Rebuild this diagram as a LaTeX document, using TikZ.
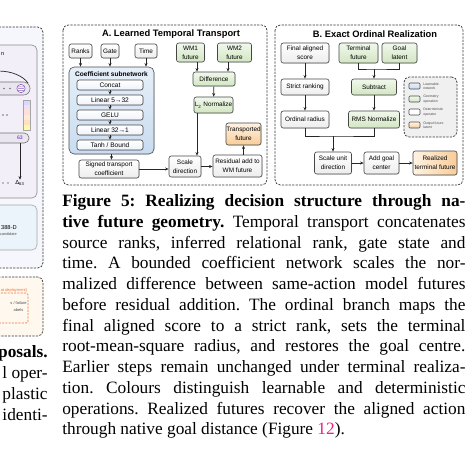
\documentclass[tikz,border=0pt]{standalone}
\usepackage{fontspec}
\setmainfont{Liberation Serif}
\newfontfamily\dgm{Liberation Sans}
\usetikzlibrary{arrows.meta,shadows}
\newdimen\pix
\pix=0.578pt
\definecolor{boxbot}{HTML}{EDEDED}
\definecolor{geotop}{HTML}{F1F8EC}
\definecolor{geobot}{HTML}{D2E6C2}
\definecolor{outtop}{HTML}{FFF3E4}
\definecolor{outbot}{HTML}{F8CC98}
\definecolor{nettop}{HTML}{E6EFF9}
\definecolor{netbot}{HTML}{C9DCF0}
\definecolor{layerbot}{HTML}{EEF3FA}
\definecolor{keybg}{HTML}{F0F0F0}
\definecolor{stripbg}{HTML}{F5F7FC}
\definecolor{lavender}{HTML}{F2EFF8}
\definecolor{pillbg}{HTML}{E9E6F0}
\definecolor{candbg}{HTML}{EBF4FB}
\definecolor{creambg}{HTML}{FFF8EE}
\definecolor{deploy}{HTML}{EA7440}
\definecolor{linkpink}{HTML}{EC1C8C}
\definecolor{iconviolet}{HTML}{8A5BC2}
\frenchspacing

\begin{document}
\begin{tikzpicture}[x=0.578pt, y=-0.578pt,
  panel/.style={draw=black!78, line width=0.4pt, dash pattern=on 1.3pt off 0.7pt, rounded corners=3pt},
  box/.style={draw=black!72, line width=0.35pt, rounded corners=1.3pt, inner sep=0pt, align=center,
    font=\dgm\fontsize{3.7}{5}\selectfont, top color=white, bottom color=boxbot,
    drop shadow={opacity=0.22, shadow xshift=0.35pt, shadow yshift=-0.35pt}},
  geo/.style={box, top color=geotop, bottom color=geobot},
  outbox/.style={box, top color=outtop, bottom color=outbot},
  netlayer/.style={box, minimum width=66\pix, minimum height=10\pix, top color=white, bottom color=layerbot, font=\dgm\fontsize{3.8}{5}\selectfont},
  heading/.style={font=\dgm\bfseries\fontsize{5.4}{6.5}\selectfont, inner sep=0pt},
  arr/.style={-{Stealth[length=2.1pt, width=1.7pt]}, line width=0.4pt, draw=black!85},
  link/.style={line width=0.4pt, draw=black!85},
  swatch/.style={draw=black!70, line width=0.3pt, rounded corners=0.6pt, minimum width=11\pix, minimum height=6\pix, inner sep=0pt},
  legendtext/.style={anchor=west, align=left, inner sep=0pt, text=black!70, font=\dgm\fontsize{2}{2.5}\selectfont},
  capt/.style={inner sep=0pt, font=\fontsize{10}{12}\selectfont}]

\path[use as bounding box, fill=white] (0,0) rectangle (476,463);

\draw[panel, fill=stripbg] (-20,27) rectangle (43,268);
\draw[draw=black!45, line width=0.35pt, fill=lavender, rounded corners=3pt] (-20,45) rectangle (37,198);
\node[anchor=base east, inner sep=0pt, font=\dgm\fontsize{3.2}{4}\selectfont] (strip-head) at (4.5,55) {n};
\draw[link] (-2,71) .. controls (12,71) and (23,76) .. (28,83);
\node[draw=black!55, line width=0.35pt, fill=pillbg, rounded corners=3.7pt, minimum width=50\pix, minimum height=13\pix, inner sep=0pt] (pill-1) at (5,88.5) {};
\fill[black!55] (4,88.5) circle (0.45pt) (10,88.5) circle (0.45pt);
\draw[iconviolet, line width=0.35pt, fill=white] (21,88.5) circle (2.4pt);
\draw[iconviolet, line width=0.25pt] (18.2,86.8) .. controls (19.4,85.6) and (20.2,88) .. (21.2,86.8) .. controls (22.2,85.6) and (23,88) .. (23.9,86.8);
\draw[iconviolet, line width=0.25pt] (18.2,88.6) .. controls (19.4,87.4) and (20.2,89.8) .. (21.2,88.6) .. controls (22.2,87.4) and (23,89.8) .. (23.9,88.6);
\draw[iconviolet, line width=0.25pt] (18.2,90.4) .. controls (19.4,89.2) and (20.2,91.6) .. (21.2,90.4) .. controls (22.2,89.2) and (23,91.6) .. (23.9,90.4);
\fill[blue!15] (23,100) rectangle (30,105);
\fill[violet!12] (23,105) rectangle (30,110);
\fill[red!13] (23,110) rectangle (30,115);
\fill[orange!16] (23,115) rectangle (30,120);
\fill[orange!24] (23,120) rectangle (30,125);
\fill[yellow!35] (23,125) rectangle (30,130);
\draw[black!35, line width=0.25pt] (23,100) rectangle (30,130);
\fill[black!55] (3,115) circle (0.45pt) (7,115) circle (0.45pt);
\node[draw=black!55, line width=0.35pt, fill=pillbg, rounded corners=2.8pt, minimum width=49\pix, minimum height=10\pix, inner sep=0pt] (pill-2) at (4.5,138) {};
\node[inner sep=0pt, text=iconviolet, font=\dgm\bfseries\fontsize{3}{3.5}\selectfont] (pill-2-text) at (20,138) {63};
\node[inner sep=0pt, font=\dgm\fontsize{3.4}{4}\selectfont] (delta) at (20,183) {Δ\textsubscript{63}};
\draw[arr] (pill-2.south -| delta) -- (delta);
\fill[blue!40!black!50] (3,183) circle (0.5pt) (8,183) circle (0.5pt);
\draw[draw=black!35, line width=0.35pt, fill=candbg, rounded corners=3pt] (-20,205) rectangle (37,250);
\node[anchor=east, inner sep=0pt, font=\dgm\fontsize{3.3}{4}\selectfont] (cand-dim) at (17,228) {388-D};
\node[anchor=east, inner sep=0pt, text=black!70, font=\dgm\fontsize{2.2}{3}\selectfont] (cand-text) at (17,234.5) {candidate};
\draw[panel, fill=creambg] (-20,277) rectangle (43,336);
\draw[deploy, line width=0.4pt, dash pattern=on 1.2pt off 0.7pt, rounded corners=1pt] (-20,293) rectangle (28,323);
\node[anchor=base east, inner sep=0pt, text=deploy, font=\dgm\fontsize{2.3}{3}\selectfont] (deploy-tag) at (27.5,291.5) {at deployment)};
\node[inner sep=0pt, align=center, text=black!70, font=\dgm\fontsize{2.3}{4}\selectfont] (deploy-text) at (18.5,306.5) {s / failure\\abels};
\node[capt, anchor=base east, font=\bfseries\fontsize{10}{12}\selectfont] (left-0) at (48,357) {posals.};
\node[capt, anchor=base east] (left-1) at (48,378) {l oper-};
\node[capt, anchor=base east] (left-2) at (48,399) {plastic};
\node[capt, anchor=base east] (left-3) at (48,420) {identi-};

\draw[panel] (63,25) rectangle (267,185);
\draw[panel] (275,25) rectangle (463,185);
\node[heading] (title-a) at (171,34) {A. Learned Temporal Transport};
\node[heading] (title-b) at (375,34) {B. Exact Ordinal Realization};

\node[box, minimum width=23\pix, minimum height=14\pix] (in-0) at (80.5,51) {Ranks};
\node[box, minimum width=18\pix, minimum height=14\pix] (in-1) at (110,51) {Gate};
\node[box, minimum width=22\pix, minimum height=14\pix] (in-2) at (146,51) {Time};
\node[box, top color=nettop, bottom color=netbot, draw=black!70, rounded corners=3pt, minimum width=85\pix, minimum height=87\pix] (net) at (111.5,110.5) {};
\node[inner sep=0pt, font=\dgm\bfseries\fontsize{3.8}{4.5}\selectfont] (net-title) at (111.5,74) {Coefficient subnetwork};
\node[netlayer] (net-0) at (110,85) {Concat};
\node[netlayer] (net-1) at (110,100) {Linear 5→32};
\node[netlayer] (net-2) at (110,115) {GELU};
\node[netlayer] (net-3) at (110,130) {Linear 32→1};
\node[netlayer] (net-4) at (110,145) {Tanh / Bound};
\node[box, minimum width=60\pix, minimum height=18\pix] (signed) at (109,169) {Signed transport\\coefficient};
\node[box, minimum width=32\pix, minimum height=21\pix] (scale-dir) at (185,166.5) {Scale\\direction};
\node[box, minimum width=49\pix, minimum height=22\pix] (residual) at (237.5,166) {Residual add to\\WM future};
\node[outbox, minimum width=35\pix, minimum height=22\pix] (transported) at (243.5,134) {Transported\\future};
\node[geo, minimum width=28\pix, minimum height=19\pix] (wm-1) at (190.5,52.5) {WM1\\future};
\node[geo, minimum width=34\pix, minimum height=19\pix] (wm-2) at (234.5,52.5) {WM2\\future};
\node[geo, minimum width=42\pix, minimum height=14\pix] (difference) at (214,79) {Difference};
\node[geo, minimum width=39\pix, minimum height=16\pix] (l2-norm) at (213.5,105) {L\textsubscript{2} Normalize};

\draw[arr] (in-0) -- (in-0 |- net.north);
\draw[arr] (in-1) -- (in-1 |- net.north);
\draw[arr] (in-2) -- (in-2 |- net.north);
\draw[arr] (net-0) -- (net-1);
\draw[arr] (net-1) -- (net-2);
\draw[arr] (net-2) -- (net-3);
\draw[arr] (net-3) -- (net-4);
\draw[arr] (net.south) -- (net.south |- signed.north);
\draw[arr] ([xshift=6.5\pix]wm-1.south) -- ([xshift=6.5\pix]wm-1.south |- difference.north);
\draw[arr] ([xshift=-6.5\pix]wm-2.south) -- ([xshift=-6.5\pix]wm-2.south |- difference.north);
\draw[arr] (difference) -- (l2-norm);
\draw[arr] ([xshift=-16.5\pix]l2-norm.south) -- ([xshift=-16.5\pix]l2-norm.south |- scale-dir.north);
\draw[arr] (signed.east) -- (signed.east -| scale-dir.west);
\draw[arr] (scale-dir.east) -- (scale-dir.east -| residual.west);
\draw[arr] (residual.north -| transported) -- (transported.south);

\node[box, minimum width=48\pix, minimum height=20\pix] (final) at (305,53) {Final aligned\\score};
\node[geo, minimum width=39\pix, minimum height=20\pix] (terminal) at (358.5,53) {Terminal\\future};
\node[geo, minimum width=35\pix, minimum height=20\pix] (goal) at (399.5,53) {Goal\\latent};
\node[box, minimum width=48\pix, minimum height=16\pix] (strict) at (305,87) {Strict ranking};
\node[geo, minimum width=45\pix, minimum height=16\pix] (subtract) at (374,87) {Subtract};
\node[box, minimum width=48\pix, minimum height=17\pix] (radius) at (305,119.5) {Ordinal radius};
\node[geo, minimum width=51\pix, minimum height=17\pix] (rms) at (374,119.5) {RMS Normalize};
\node[box, minimum width=37\pix, minimum height=22\pix] (scale-unit) at (333,163) {Scale unit\\direction};
\node[box, minimum width=35\pix, minimum height=22\pix] (add-goal) at (381.5,163) {Add goal\\center};
\node[outbox, left color=outtop, right color=outbot, minimum width=44\pix, minimum height=24\pix] (realized) at (435,163) {Realized\\terminal future};
\coordinate (join-t) at (374,69);
\coordinate (join-b) at (333,136);

\draw[link] (terminal.south) |- (join-t) -| (goal.south);
\draw[arr] (join-t) -- (subtract);
\draw[arr] (final) -- (strict);
\draw[arr] (strict) -- (radius);
\draw[arr] (subtract) -- (rms);
\draw[link] (radius.south) |- (join-b) -| (rms.south);
\draw[arr] (join-b) -- (scale-unit);
\draw[arr] (scale-unit) -- (add-goal);
\draw[arr] (add-goal) -- (realized);

\node[panel, fill=keybg, minimum width=53\pix, minimum height=60\pix, inner sep=0pt] (legend) at (430.5,107) {};
\node[swatch, top color=nettop, bottom color=netbot] (key-0) at (414.5,86) {};
\node[legendtext] (key-0-text) at (423,86) {Learnable\\network};
\node[swatch, top color=geotop, bottom color=geobot] (key-1) at (414.5,99) {};
\node[legendtext] (key-1-text) at (423,99) {Geometry\\operation};
\node[swatch, fill=white] (key-2) at (414.5,112) {};
\node[legendtext] (key-2-text) at (423,112) {Deterministic\\operator};
\node[swatch, top color=outtop, bottom color=outbot] (key-3) at (414.5,125) {};
\node[legendtext] (key-3-text) at (423,125) {Output future\\latent};

\node[capt, anchor=base west, text width=233pt, align=justify] (caption) at (62,206.5) {\frenchspacing\textbf{Figure 5: Realizing decision structure through na-\linebreak tive future geometry.} Temporal transport concatenates\linebreak source ranks, inferred relational rank, gate state and\linebreak time. A bounded coefficient network scales the nor-\linebreak malized difference between same-action model futures\linebreak before residual addition. The ordinal branch maps the\linebreak final aligned score to a strict rank, sets the terminal\linebreak root-mean-square radius, and restores the goal centre.\linebreak Earlier steps remain unchanged under terminal realiza-\linebreak tion. Colours distinguish learnable and deterministic\linebreak operations. Realized futures recover the aligned action\linebreak through native goal distance (Figure \textcolor{linkpink}{12}).};
\end{tikzpicture}
\end{document}
